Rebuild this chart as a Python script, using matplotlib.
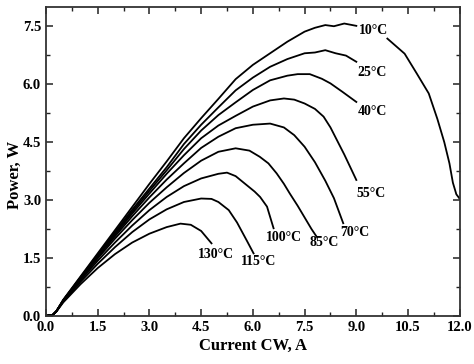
import numpy as np
import matplotlib
matplotlib.use('Agg')
import matplotlib.pyplot as plt
from matplotlib.ticker import MultipleLocator, FormatStrFormatter

# Output power vs. CW current for several heat-sink temperatures
x_10 = [0, 0.2, 0.3, 0.5, 1, 1.5, 2, 2.5, 3, 3.5, 4, 4.5, 5, 5.5, 6, 6.5, 7, 7.5, 7.8, 8.1, 8.35,
        8.65, 9.0, np.nan, 9.9, 10.4, 10.75, 11.1, 11.35, 11.55, 11.7, 11.8, 11.9, 12.0]
y_10 = [0, 0.03, 0.12, 0.42, 1.02, 1.62, 2.22, 2.82, 3.42, 4.0, 4.6, 5.12, 5.62, 6.13, 6.5, 6.8,
        7.1, 7.36, 7.46, 7.53, 7.5, 7.57, 7.51, np.nan, 7.18, 6.79, 6.28, 5.76, 5.1, 4.5, 3.95,
        3.45, 3.15, 3.03]

x_25 = [0, 0.2, 0.3, 0.5, 1, 1.5, 2, 2.5, 3, 3.5, 4, 4.5, 5, 5.5, 6, 6.5, 7, 7.5, 7.8, 8.1, 8.4, 8.7, 9.0]
y_25 = [0, 0.03, 0.12, 0.41, 1.0, 1.59, 2.17, 2.75, 3.3, 3.85, 4.45, 4.95, 5.4, 5.84, 6.17, 6.45,
        6.65, 6.8, 6.82, 6.88, 6.8, 6.74, 6.58]

x_40 = [0, 0.2, 0.3, 0.5, 1, 1.5, 2, 2.5, 3, 3.5, 4, 4.5, 5, 5.5, 6, 6.5, 7, 7.3, 7.65, 8.0, 8.25, 8.6, 9.0]
y_40 = [0, 0.03, 0.12, 0.4, 0.99, 1.57, 2.13, 2.7, 3.24, 3.77, 4.32, 4.8, 5.2, 5.53, 5.85, 6.1,
        6.22, 6.26, 6.26, 6.14, 6.02, 5.8, 5.54]

x_55 = [0, 0.2, 0.3, 0.5, 1, 1.5, 2, 2.5, 3, 3.5, 4, 4.5, 5, 5.5, 6, 6.5, 6.9, 7.2, 7.5, 7.8, 8.05,
        8.25, 8.45, 8.65, 8.82, 9.0]
y_55 = [0, 0.03, 0.12, 0.4, 0.98, 1.55, 2.1, 2.65, 3.17, 3.68, 4.16, 4.6, 4.93, 5.18, 5.42, 5.58,
        5.63, 5.6, 5.5, 5.36, 5.16, 4.88, 4.53, 4.18, 3.86, 3.52]

x_70 = [0, 0.2, 0.3, 0.5, 1, 1.5, 2, 2.5, 3, 3.5, 4, 4.5, 5, 5.5, 6, 6.5, 6.9, 7.2, 7.5, 7.8, 8.1,
        8.35, 8.62]
y_70 = [0, 0.03, 0.12, 0.4, 0.97, 1.53, 2.06, 2.58, 3.07, 3.53, 3.95, 4.35, 4.64, 4.86, 4.95, 4.98,
        4.88, 4.68, 4.38, 3.98, 3.5, 3.05, 2.4]

x_85 = [0, 0.2, 0.3, 0.5, 1, 1.5, 2, 2.5, 3, 3.5, 4, 4.5, 5, 5.5, 5.9, 6.2, 6.45, 6.69, 6.9, 7.07,
        7.3, 7.5, 7.7, 7.85]
y_85 = [0, 0.03, 0.12, 0.39, 0.95, 1.49, 2.0, 2.48, 2.93, 3.33, 3.7, 4.02, 4.25, 4.34, 4.28, 4.12,
        3.95, 3.69, 3.42, 3.17, 2.85, 2.55, 2.25, 2.05]

x_100 = [0, 0.2, 0.3, 0.5, 1, 1.5, 2, 2.5, 3, 3.5, 4, 4.5, 5, 5.25, 5.5, 5.83, 6.05, 6.21, 6.41, 6.6]
y_100 = [0, 0.03, 0.12, 0.38, 0.92, 1.43, 1.9, 2.34, 2.74, 3.08, 3.36, 3.56, 3.68, 3.71, 3.62,
         3.38, 3.22, 3.08, 2.83, 2.27]

x_115 = [0, 0.2, 0.3, 0.5, 1, 1.5, 2, 2.5, 3, 3.5, 4, 4.5, 4.8, 5.0, 5.3, 5.54, 5.83, 6.02]
y_115 = [0, 0.03, 0.12, 0.37, 0.88, 1.35, 1.78, 2.17, 2.5, 2.76, 2.95, 3.04, 3.03, 2.95, 2.74,
         2.42, 1.94, 1.62]

x_130 = [0, 0.2, 0.3, 0.5, 1, 1.5, 2, 2.5, 3, 3.5, 3.9, 4.2, 4.5, 4.8]
y_130 = [0, 0.03, 0.11, 0.35, 0.82, 1.24, 1.6, 1.9, 2.13, 2.3, 2.39, 2.36, 2.2, 1.88]

curves = [(x_10, y_10), (x_25, y_25), (x_40, y_40), (x_55, y_55), (x_70, y_70),
          (x_85, y_85), (x_100, y_100), (x_115, y_115), (x_130, y_130)]

labels = ['10°C', '25°C', '40°C', '55°C', '70°C', '85°C', '100°C', '115°C', '130°C']
label_x = [9.51, 9.46, 9.46, 9.43, 8.96, 8.07, 6.90, 6.17, 4.93]
label_y = [7.40, 6.31, 5.28, 3.18, 2.17, 1.89, 2.02, 1.40, 1.58]

plt.rcParams['font.family'] = ['Liberation Serif', 'DejaVu Serif']
plt.rcParams['font.weight'] = 'bold'

fig = plt.figure(figsize=(4.74, 3.64), dpi=100)
ax = fig.add_axes([0.097, 0.132, 0.873, 0.849])

for cx, cy in curves:
    ax.plot(cx, cy, color='black', linewidth=1.3)

for lab, lx, ly in zip(labels, label_x, label_y):
    ax.text(lx, ly, lab, fontsize=10, fontweight='bold', ha='center', va='center')

ax.set_xlim(0, 12)
ax.set_ylim(0, 8)
ax.xaxis.set_major_locator(MultipleLocator(1.5))
ax.xaxis.set_minor_locator(MultipleLocator(0.75))
ax.yaxis.set_major_locator(MultipleLocator(1.5))
ax.yaxis.set_minor_locator(MultipleLocator(0.75))
ax.xaxis.set_major_formatter(FormatStrFormatter('%.1f'))
ax.yaxis.set_major_formatter(FormatStrFormatter('%.1f'))
ax.tick_params(which='both', direction='in', top=True, right=True, labelsize=10.5, colors='#222222')
ax.tick_params(which='major', length=5, width=1.1)
ax.tick_params(which='minor', length=3, width=1.0)
for lbl in ax.get_xticklabels() + ax.get_yticklabels():
    lbl.set_fontweight('bold')
    lbl.set_color('black')
for sp in ax.spines.values():
    sp.set_linewidth(1.3)
    sp.set_color('#333333')

ax.set_xlabel('Current CW, A', fontsize=12, fontweight='bold', labelpad=3)
ax.set_ylabel('Power, W', fontsize=12, fontweight='bold')
ax.yaxis.set_label_coords(-0.056, 0.455)

fig.savefig('out.png', dpi=100)
